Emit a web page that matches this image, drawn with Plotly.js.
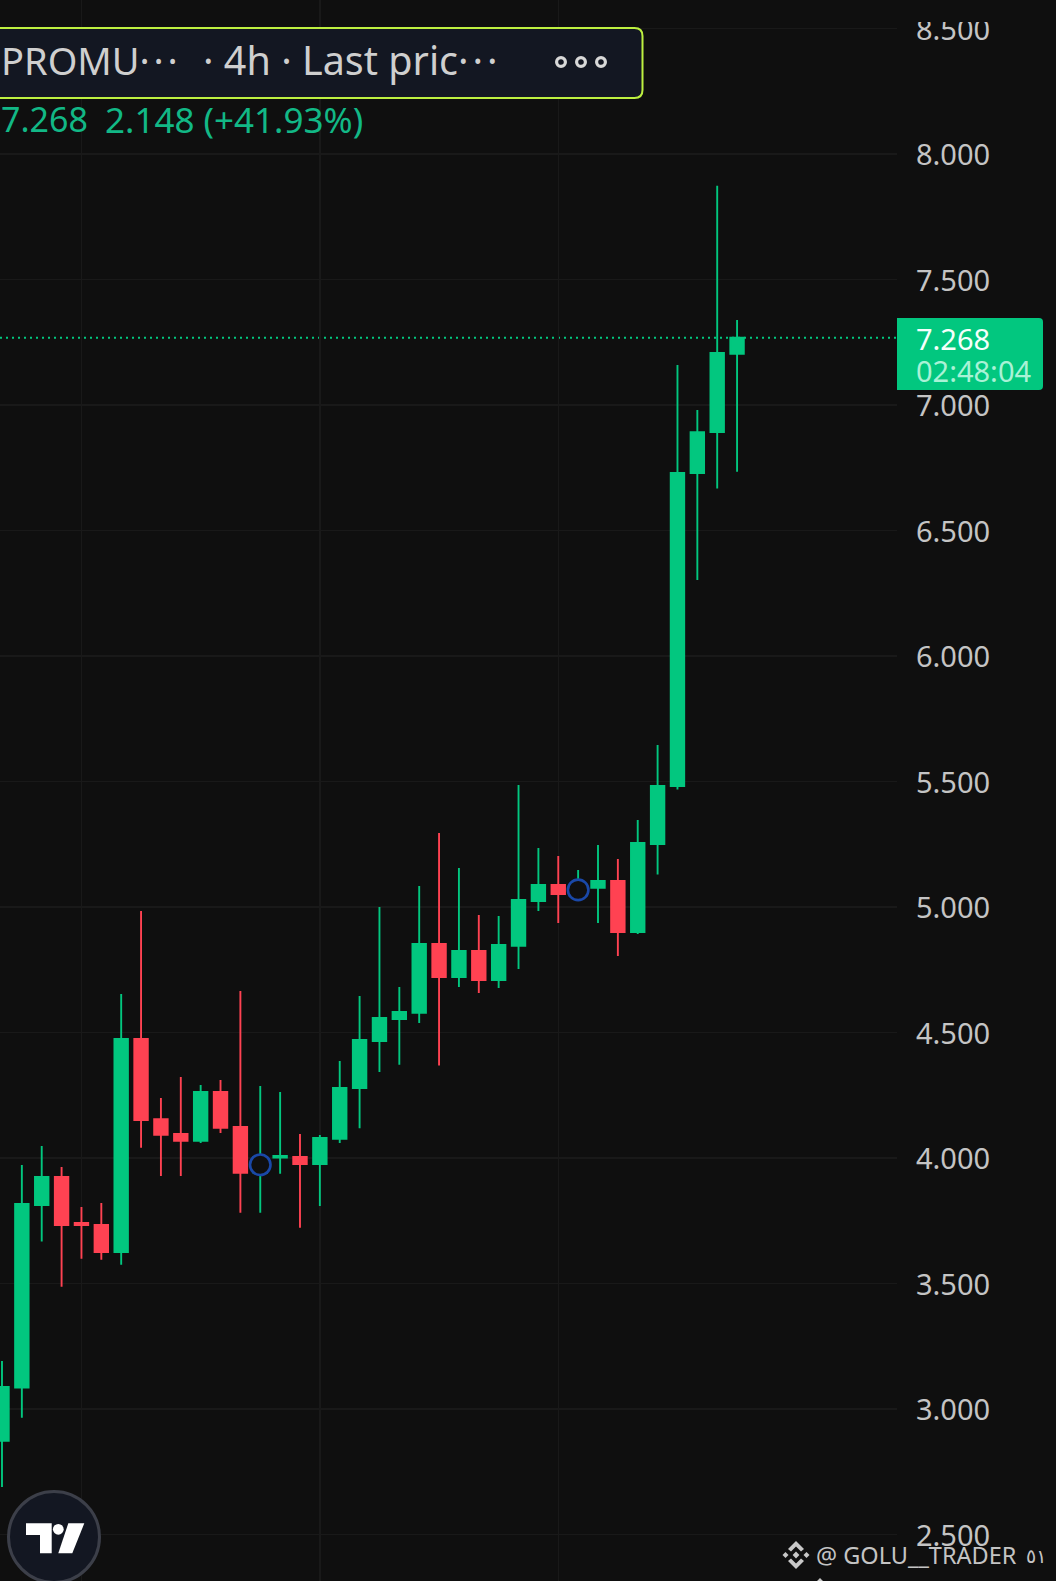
<!DOCTYPE html>
<html>
<head>
<meta charset="utf-8">
<script src="https://cdn.plot.ly/plotly-3.0.1.min.js"></script>
<style>html,body{margin:0;padding:0;background:#0f0f0f;overflow:hidden}#chart{width:1056px;height:1581px}</style>
</head>
<body>
<div id="chart"></div>
<script>
const candleIndex = [0,1,2,3,4,5,6,7,8,9,10,11,12,13,14,15,16,17,18,19,20,21,22,23,24,25,26,27,28,29,30,31,32,33,34,35,36,37];
const opens  = [2.873,3.085,3.813,3.924,3.741,3.733,3.625,4.474,4.155,4.096,4.068,4.263,4.124,3.941,4.002,4.004,3.976,4.076,4.279,4.466,4.554,4.578,4.853,4.721,4.825,4.709,4.845,5.024,5.088,5.052,5.076,5.104,4.900,5.251,5.482,6.729,6.892,7.204];
const highs  = [3.191,3.972,4.048,3.964,3.805,3.821,4.653,4.984,4.239,4.323,4.291,4.311,4.665,4.287,4.263,4.096,4.092,4.386,4.645,5.000,4.681,5.084,5.295,5.155,4.968,4.964,5.486,5.235,5.203,5.147,5.247,5.191,5.347,5.645,7.159,6.980,7.873,7.339];
const lows   = [2.689,2.965,3.667,3.487,3.599,3.595,3.575,4.041,3.928,3.928,4.060,4.100,3.782,3.782,3.937,3.722,3.809,4.060,4.118,4.343,4.371,4.538,4.368,4.681,4.657,4.677,4.753,4.984,4.936,5.040,4.936,4.805,4.892,5.129,5.468,6.303,6.667,6.734];
const closes = [3.088,3.817,3.924,3.733,3.733,3.625,4.474,4.151,4.092,4.068,4.263,4.120,3.941,4.004,4.008,3.976,4.080,4.279,4.470,4.558,4.582,4.853,4.721,4.825,4.709,4.849,5.028,5.088,5.052,5.076,5.104,4.900,5.255,5.482,6.729,6.892,7.207,7.268];
const dividendIndex = [13,29];
const dividendPrice = [3.973,5.068];
const priceTicks = [2.5,3,3.5,4,4.5,5,5.5,6,6.5,7,7.5,8,8.5];
const timeTicks = [4,16,28];
const lastPrice = 7.268;

const W = 897, H = 1581;
const X = p => p / W, Y = p => 1 - p / H;
const UP = '#02c77f', DOWN = '#ff4252', BG = '#0f0f0f', GRID = '#191919', TXT = '#c4c4c4';
const FONT = '"Noto Sans", sans-serif';

function poly(pts){ return 'M' + pts.map(q => X(q[0]) + ',' + Y(q[1])).join('L') + 'Z'; }
function rrect(x0,y0,x1,y1,rl,rr){
  const P=(a,b)=>X(a)+','+Y(b);
  return 'M'+P(x0+rl,y0)+'L'+P(x1-rr,y0)+'Q'+P(x1,y0)+' '+P(x1,y0+rr)+'L'+P(x1,y1-rr)+'Q'+P(x1,y1)+' '+P(x1-rr,y1)+
         'L'+P(x0+rl,y1)+'Q'+P(x0,y1)+' '+P(x0,y1-rl)+'L'+P(x0,y0+rl)+'Q'+P(x0,y0)+' '+P(x0+rl,y0)+'Z';
}
function pshape(path, fill, lineColor, lineW){
  return {type:'path',xref:'paper',yref:'paper',layer:'above',path:path,fillcolor:fill,
          line:{color:lineColor||'rgba(0,0,0,0)',width:lineW||0}};
}
function circ(cx,cy,r,fill,lineColor,lineW){
  return {type:'circle',xref:'paper',yref:'paper',layer:'above',x0:X(cx-r),x1:X(cx+r),y0:Y(cy+r),y1:Y(cy-r),
          fillcolor:fill,line:{color:lineColor||'rgba(0,0,0,0)',width:lineW||0}};
}
function label(text,px,py,size,color,anchor,font){
  return {xref:'paper',yref:'paper',x:X(px),y:Y(py),text:text,showarrow:false,xanchor:anchor||'left',yanchor:'middle',
          font:{family:font||FONT,size:size,color:color},borderpad:0,borderwidth:0};
}
function binance(cx,cy,s){
  const d=(x,y,r)=>poly([[cx+x,cy+y-r],[cx+x+r,cy+y],[cx+x,cy+y+r],[cx+x-r,cy+y]]);
  const c='#c8c8c8';
  return [
    pshape(d(0,0,3.4*s),c), pshape(d(-10.5*s,0,3*s),c), pshape(d(10.5*s,0,3*s),c),
    pshape(poly([[cx,cy-14*s],[cx+8*s,cy-6*s],[cx+5*s,cy-3.4*s],[cx,cy-8.4*s],[cx-5*s,cy-3.4*s],[cx-8*s,cy-6*s]]),c),
    pshape(poly([[cx,cy+14*s],[cx+8*s,cy+6*s],[cx+5*s,cy+3.4*s],[cx,cy+8.4*s],[cx-5*s,cy+3.4*s],[cx-8*s,cy+6*s]]),c)
  ];
}

const traces = [
  {type:'candlestick',x:candleIndex,open:opens,high:highs,low:lows,close:closes,whiskerwidth:0,
   increasing:{line:{color:UP,width:1.9},fillcolor:UP},
   decreasing:{line:{color:DOWN,width:1.9},fillcolor:DOWN},hoverinfo:'skip',showlegend:false},
  {type:'scatter',mode:'markers',x:dividendIndex,y:dividendPrice,hoverinfo:'skip',showlegend:false,
   marker:{size:20.5,color:BG,line:{color:'#1a48a8',width:2.6}}}
];

const shapes = [
  {type:'line',xref:'paper',yref:'y',x0:0,x1:1,y0:lastPrice,y1:lastPrice,layer:'below',line:{color:UP,width:2,dash:'2px 4px'}},
  pshape(rrect(W,318,1043,390,0,4),UP),
  {type:'rect',xref:'paper',yref:'paper',layer:'above',x0:X(890),x1:X(1056),y0:Y(22),y1:1,fillcolor:BG,line:{width:0}},
  pshape(rrect(-20,28,642.5,98,0,8),'#131722','#bdf040',2),
  circ(561,62,4.4,'rgba(0,0,0,0)','#d8d8d8',3.2), circ(581,62,4.4,'rgba(0,0,0,0)','#d8d8d8',3.2), circ(601,62,4.4,'rgba(0,0,0,0)','#d8d8d8',3.2),
  circ(54,1537,45.5,'#131722','#3c3f49',3),
  pshape(poly([[26,1523.3],[51.7,1523.3],[51.7,1553.3],[40,1553.3],[40,1535],[26,1535]]),'#ffffff'),
  circ(58.3,1529.3,5.4,'#ffffff'),
  pshape(poly([[68.3,1523.3],[84.3,1523.3],[72.3,1553.3],[58.3,1553.3]]),'#ffffff')
].concat(binance(796,1555,1)).concat(binance(820,1592,1));

const annotations = [
  label('PROMU\u00b7\u200a\u00b7\u200a\u00b7',1,60,38,'#cfcfcf'),
  label('\u00b7 4h \u00b7 Last pric\u00b7\u200a\u00b7\u200a\u00b7',202.5,60,39.5,'#cfcfcf'),
  label('7.268',1,119,34,'#12b886'),
  label('2.148 (+41.93%)',104.5,119,35,'#12b886'),
  label('7.268',915.5,339,29,'#f4fffb'),
  label('02:48:04',915.5,371,29,'#a9f2d6'),
  label('@ GOLU__TRADER',816,1555,23.5,'#c4c4c4'),
  label('\u0665\u0661',1026,1556,19,'#c4c4c4','left','"DejaVu Sans", sans-serif')
];

const layout = {
  width:1056,height:1581,margin:{l:0,r:159,t:0,b:0},
  paper_bgcolor:BG,plot_bgcolor:BG,showlegend:false,dragmode:false,
  xaxis:{type:'linear',range:[-0.1,45.05],tickmode:'array',tickvals:timeTicks,showticklabels:false,ticks:'',
         showgrid:true,gridcolor:GRID,gridwidth:1.5,zeroline:false,showline:false,rangeslider:{visible:false},fixedrange:true},
  yaxis:{side:'right',range:[2.3147,8.6135],tickmode:'array',tickvals:priceTicks,
         ticktext:priceTicks.map(v => v.toFixed(3)),ticks:'',ticklabelstandoff:18,ticklabelshift:1,
         tickfont:{family:FONT,size:29,color:TXT},showgrid:true,gridcolor:GRID,gridwidth:1.5,zeroline:false,showline:false,fixedrange:true},
  boxgap:0.03,shapes:shapes,annotations:annotations
};
Plotly.newPlot('chart',traces,layout,{staticPlot:true,displayModeBar:false});
</script>
</body>
</html>
